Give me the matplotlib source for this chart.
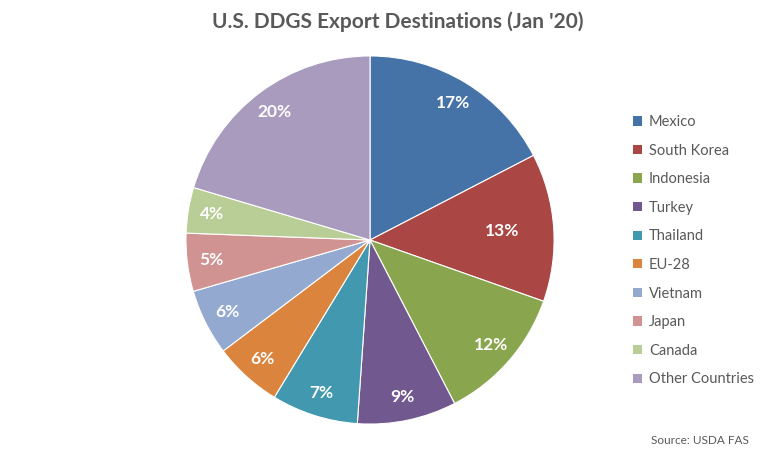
import numpy as np
import matplotlib.pyplot as plt
from matplotlib.patches import Patch

countries = ['Mexico', 'South Korea', 'Indonesia', 'Turkey', 'Thailand',
             'EU-28', 'Vietnam', 'Japan', 'Canada', 'Other Countries']
shares = [17.4, 13.0, 12.0, 8.7, 7.6, 6.0, 5.8, 5.1, 4.0, 20.4]
pct_labels = ['17%', '13%', '12%', '9%', '7%', '6%', '6%', '5%', '4%', '20%']
colors = ['#4572A7', '#AA4643', '#89A54E', '#71588F', '#4198AF',
          '#DB843D', '#93A9CF', '#D19392', '#B9CD96', '#A99BBD']

plt.rcParams['font.family'] = ['Lato', 'DejaVu Sans']

fig = plt.figure(figsize=(7.68, 4.59), dpi=100)
ax = fig.add_axes([0.2409, 0.0741, 0.4818, 0.806])

wedges, _ = ax.pie(shares, colors=colors, startangle=90, counterclock=False,
                   wedgeprops=dict(edgecolor='white', linewidth=0.8))
ax.set_xlim(-1.005, 1.005)
ax.set_ylim(-1.005, 1.005)
ax.set_aspect('equal')

# label positions: middle of each wedge
for i, (w, lab) in enumerate(zip(wedges, pct_labels)):
    mid = np.deg2rad((w.theta1 + w.theta2) / 2)
    r = 0.72 if i == 1 else 0.87
    ax.text(r * np.cos(mid), r * np.sin(mid), lab, color='white',
            fontsize=12.5, fontweight='bold', ha='center', va='center')

fig.text(0.518, 0.952, "U.S. DDGS Export Destinations (Jan '20)",
         ha='center', va='center', fontsize=15, fontweight='bold', color='#595959')

handles = [Patch(facecolor=c, edgecolor='none') for c in colors]
fig.legend(handles, countries, loc='upper left', bbox_to_anchor=(0.807, 0.778),
           frameon=False, fontsize=10.5, labelcolor='#595959',
           handlelength=0.6, handleheight=0.6, handletextpad=0.5,
           labelspacing=1.0)

fig.text(0.975, 0.028, 'Source: USDA FAS', ha='right', va='bottom',
         fontsize=8.5, color='#595959')

fig.savefig('out.png', dpi=100)
